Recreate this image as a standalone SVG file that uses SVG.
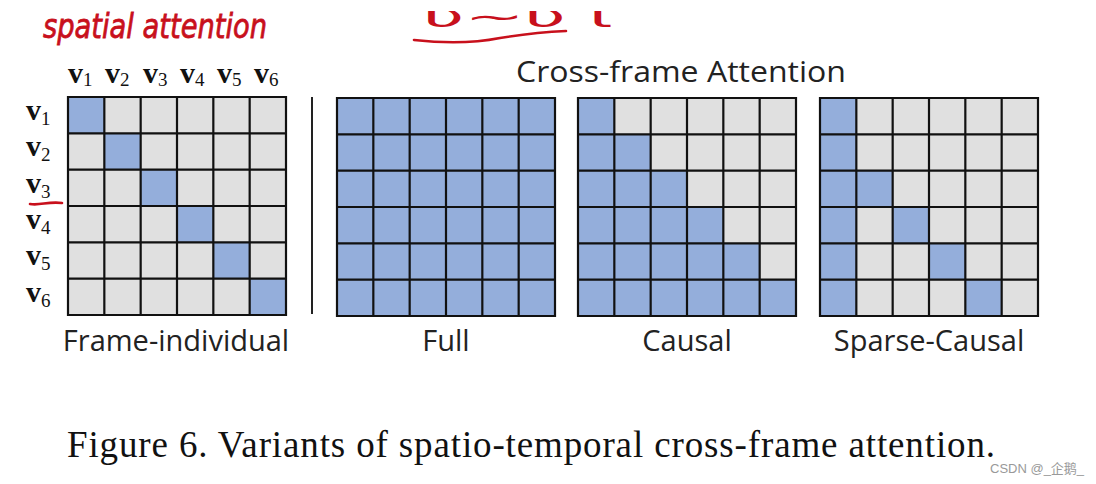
<svg xmlns="http://www.w3.org/2000/svg" xmlns:xlink="http://www.w3.org/1999/xlink" width="1096" height="484" viewBox="0 0 1096 484">
<style>
.bg{fill:#e0e0e0}
.b{fill:#94aedb}
.gl{fill:none;stroke:#111;stroke-width:2.2}
.lbl{font-family:"Open Sans","Liberation Sans",sans-serif;font-size:29px;fill:#222;text-anchor:middle}
.v{font-family:"Liberation Serif",serif;font-weight:bold;font-size:30px;fill:#111}
.sub{font-family:"Liberation Serif",serif;font-weight:normal;font-size:19px}
.hw{fill:none;stroke:#c8101c;stroke-width:2.6;stroke-linecap:round;stroke-linejoin:round}
.hwt{font-family:"DejaVu Sans","Liberation Sans",sans-serif;fill:#c8101c}
</style>
<defs>
<path id="lines" class="gl" d="M0,0H218V218H0Z M36.33,0V218 M72.67,0V218 M109,0V218 M145.33,0V218 M181.67,0V218 M0,36.33H218 M0,72.67H218 M0,109H218 M0,145.33H218 M0,181.67H218"/>
<rect id="cell" width="36.33" height="36.33"/>
</defs>
<rect width="1096" height="484" fill="#ffffff"/>

<!-- handwriting annotations -->
<g id="annotations">
<text class="hwt" x="43" y="38" font-size="33" font-style="italic" stroke="#c8101c" stroke-width="0.8" textLength="224" lengthAdjust="spacingAndGlyphs">spatial attention</text>
<text class="hwt" x="423" y="27" font-size="28" textLength="190" lengthAdjust="spacingAndGlyphs">υ~υ   ι</text>
<path class="hw" d="M414,40 C450,44 480,42 500,38 C525,34 545,32 566,31" stroke-width="3"/>
<path class="hw" d="M30,204 C40,206 48,201 62,203" stroke-width="1.8"/>
<path class="hw" d="M761,278 L768,287" stroke-width="2"/>
<path class="hw" d="M751,303 L752,304 M756,305 L765,301" stroke-width="2"/>
</g>

<!-- Frame-individual -->
<g id="frame-individual">
<g transform="translate(68,97)">
<rect class="bg" width="218" height="218"/>
<use xlink:href="#cell" class="b" x="0" y="0"/>
<use xlink:href="#cell" class="b" x="36.33" y="36.33"/>
<use xlink:href="#cell" class="b" x="72.67" y="72.67"/>
<use xlink:href="#cell" class="b" x="109" y="109"/>
<use xlink:href="#cell" class="b" x="145.33" y="145.33"/>
<use xlink:href="#cell" class="b" x="181.67" y="181.67"/>
<use xlink:href="#lines"/>
</g>
<text class="lbl" x="176" y="351">Frame-individual</text>
</g>

<g id="col-labels">
<text class="v" x="68" y="83">v<tspan class="sub" dy="3">1</tspan></text>
<text class="v" x="105" y="83">v<tspan class="sub" dy="3">2</tspan></text>
<text class="v" x="143" y="83">v<tspan class="sub" dy="3">3</tspan></text>
<text class="v" x="180" y="83">v<tspan class="sub" dy="3">4</tspan></text>
<text class="v" x="217" y="83">v<tspan class="sub" dy="3">5</tspan></text>
<text class="v" x="254" y="83">v<tspan class="sub" dy="3">6</tspan></text>
</g>
<g id="row-labels">
<text class="v" x="26" y="120">v<tspan class="sub" dy="5">1</tspan></text>
<text class="v" x="26" y="156">v<tspan class="sub" dy="5">2</tspan></text>
<text class="v" x="26" y="193">v<tspan class="sub" dy="5">3</tspan></text>
<text class="v" x="26" y="229">v<tspan class="sub" dy="5">4</tspan></text>
<text class="v" x="26" y="265">v<tspan class="sub" dy="5">5</tspan></text>
<text class="v" x="26" y="302">v<tspan class="sub" dy="5">6</tspan></text>
</g>

<line id="divider" x1="312" y1="97" x2="312" y2="314" stroke="#222" stroke-width="2"/>

<text id="cross-title" class="lbl" x="681" y="82" font-size="36" textLength="330" lengthAdjust="spacingAndGlyphs">Cross-frame Attention</text>

<!-- Full -->
<g id="full">
<g transform="translate(337,98)">
<rect class="b" width="218" height="218"/>
<use xlink:href="#lines"/>
</g>
<text class="lbl" x="446" y="351">Full</text>
</g>

<!-- Causal -->
<g id="causal">
<g transform="translate(578,98)">
<rect class="bg" width="218" height="218"/>
<path class="b" d="M0,0H36.33V36.33H72.67V72.67H109V109H145.33V145.33H181.67V181.67H218V218H0Z"/>
<use xlink:href="#lines"/>
</g>
<text class="lbl" x="687" y="351">Causal</text>
</g>

<!-- Sparse-Causal -->
<g id="sparse-causal">
<g transform="translate(820,98)">
<rect class="bg" width="218" height="218"/>
<rect class="b" x="0" y="0" width="36.33" height="218"/>
<use xlink:href="#cell" class="b" x="36.33" y="72.67"/>
<use xlink:href="#cell" class="b" x="72.67" y="109"/>
<use xlink:href="#cell" class="b" x="109" y="145.33"/>
<use xlink:href="#cell" class="b" x="145.33" y="181.67"/>
<use xlink:href="#lines"/>
</g>
<text class="lbl" x="929" y="351">Sparse-Causal</text>
</g>

<text id="caption" x="67" y="457" font-family="Liberation Serif, serif" font-size="37" fill="#111" textLength="928" lengthAdjust="spacing">Figure 6. Variants of spatio-temporal cross-frame attention.</text>
<text id="watermark" x="990" y="473" font-family="Liberation Sans, 'Noto Sans CJK SC', sans-serif" font-size="13" fill="#999">CSDN @_企鹅_</text>
</svg>
